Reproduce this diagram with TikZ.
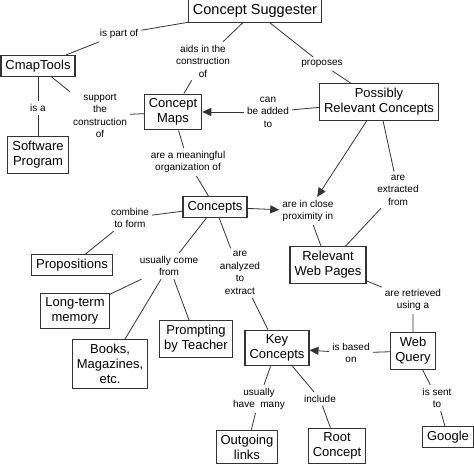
\documentclass[tikz,border=0pt]{standalone}
\usepackage{fontspec}
\setmainfont{Liberation Sans}
\usetikzlibrary{arrows.meta}
\begin{document}
\begin{tikzpicture}[x=1pt,y=-1pt,
		concept/.style={draw=black!80,line width=1.1pt,align=center,inner xsep=4.5pt,inner ysep=4.5pt,font=\fontsize{13}{15}\selectfont},
		phrase/.style={align=center,inner sep=3pt,font=\fontsize{10}{12.5}\selectfont},
		link/.style={draw=black!80,line width=0.8pt},
		tip/.style={link,-{Triangle[length=9pt,width=8pt]}}]
			\useasboundingbox (0,0) rectangle (474,465);
			% concepts
			\node[concept,font=\fontsize{14.5}{17}\selectfont] (sugg) at (255,11) {Concept Suggester};
			\node[concept] (cmap) at (38,66) {CmapTools};
			\node[concept] (soft) at (38,155) {Software\\Program};
			\node[concept] (maps) at (173,112) {Concept\\Maps};
			\node[concept] (prc) at (379,102) {Possibly\\Relevant Concepts};
			\node[concept] (conc) at (215,207) {Concepts};
			\node[concept] (prop) at (72,265) {Propositions};
			\node[concept] (ltm) at (75,311) {Long-term\\memory};
			\node[concept] (books) at (110,364) {Books,\\Magazines,\\etc.};
			\node[concept] (teach) at (196,339) {Prompting\\by Teacher};
			\node[concept] (rwp) at (328,265) {Relevant\\Web Pages};
			\node[concept] (key) at (277,348) {Key\\Concepts};
			\node[concept] (query) at (413,351) {Web\\Query};
			\node[concept] (out) at (247,447) {Outgoing\\links};
			\node[concept] (root) at (337,446) {Root\\Concept};
			\node[concept] (goog) at (448,437) {Google};
			% linking phrases
			\node[phrase] (partof) at (119,34) {is part of};
			\node[phrase] (aids) at (203,61) {aids in the\\construction\\of};
			\node[phrase] (prop1) at (322,64) {proposes};
			\node[phrase] (isa) at (38,108) {is a};
			\node[phrase] (supp) at (100,116) {support\\the\\construction\\of};
			\node[phrase] (added) at (268,112) {can\\be added\\to};
			\node[phrase] (meaning) at (188,162) {are a meaningful\\organization of};
			\node[phrase] (combine) at (130,218) {combine\\to form};
			\node[phrase] (come) at (169,266) {usually come\\from};
			\node[phrase] (analyzed) at (240,273) {are\\analyzed\\to\\extract};
			\node[phrase] (close) at (308,211) {are in close\\proximity in};
			\node[phrase] (extr) at (398,190) {are\\extracted\\from};
			\node[phrase] (retr) at (413,300) {are retrieved\\using a};
			\node[phrase] (based) at (351,353) {is based\\on};
			\node[phrase] (sent) at (437,398) {is sent\\to};
			\node[phrase] (many) at (259,399) {usually\\have\ \ many};
			\node[phrase] (incl) at (320,399) {include};
			% connectors
			\draw[link] (sugg) -- (partof) -- (cmap);
			\draw[link] (sugg) -- (aids) -- (maps);
			\draw[link] (sugg) -- (prop1) -- (prc);
			\draw[link] (cmap) -- (isa) -- (soft);
			\draw[link] (cmap) -- (supp) -- (maps);
			\draw[link] (prc) -- (added);
			\draw[tip] (added) -- (maps);
			\draw[link] (maps) -- (meaning) -- (conc);
			\draw[link] (conc) -- (combine) -- (prop);
			\draw[link] (conc) -- (come);
			\draw[link] (come) -- (ltm);
			\draw[link] (come) -- (books);
			\draw[link] (come) -- (teach);
			\draw[link] (conc) -- (analyzed) -- (key);
			\draw[tip] (conc) -- (close);
			\draw[tip] (prc) -- (close);
			\draw[link] (close) -- (rwp);
			\draw[link] (prc) -- (extr) -- (rwp);
			\draw[link] (rwp) -- (retr) -- (query);
			\draw[link] (query) -- (based);
			\draw[tip] (based) -- (key);
			\draw[link] (query) -- (sent) -- (goog);
			\draw[link] (key) -- (many) -- (out);
			\draw[link] (key) -- (incl) -- (root);
		\end{tikzpicture}
\end{document}
